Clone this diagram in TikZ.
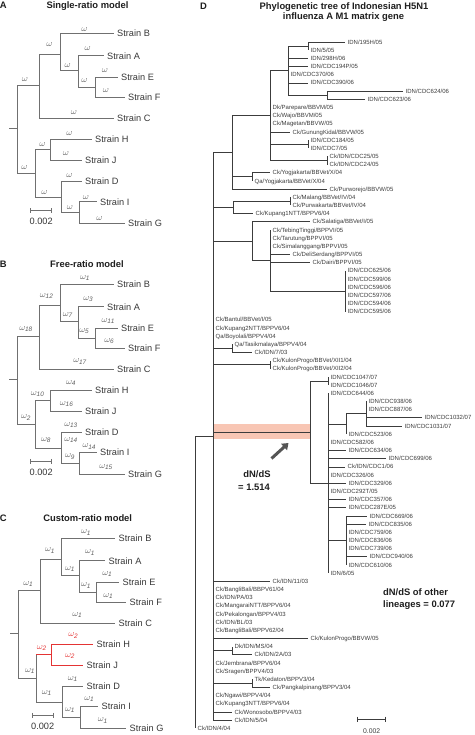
\documentclass[tikz,border=0pt]{standalone}
\usepackage{fontspec}
\setmainfont{Liberation Sans}
\usetikzlibrary{arrows.meta}
\definecolor{brgray}{RGB}{112,112,112}
\definecolor{omgray}{RGB}{95,95,95}
\definecolor{txtgray}{RGB}{55,55,55}
\definecolor{dline}{RGB}{60,60,60}
\definecolor{dtext}{RGB}{60,60,60}
\definecolor{ttlc}{RGB}{30,30,30}
\definecolor{hlred}{RGB}{228,52,52}
\definecolor{hlband}{RGB}{248,198,180}
\definecolor{arrgray}{RGB}{85,85,85}
\tikzset{
 br/.style={draw=brgray, line width=1pt, line cap=rect},
 hjbr/.style={br},
 dbr/.style={draw=dline, line width=0.65pt},
 lab/.style={anchor=west, inner sep=0pt, text=txtgray, font=\fontsize{9.2}{10}\selectfont, text height=6.6pt, text depth=0pt},
 om/.style={inner sep=0pt, text=omgray, font=\fontsize{9.2}{10}\selectfont},
 omr/.style={om, text=hlred},
 dl/.style={anchor=west, inner sep=0pt, text=dtext, font=\fontsize{6}{7}\selectfont, text height=4.3pt, text depth=0pt},
 ttl/.style={inner sep=0pt, text=ttlc, font=\fontsize{9.4}{11}\selectfont\bfseries, text height=6.7pt, text depth=0pt},
 sbar/.style={draw=brgray, line width=0.9pt},
 sclab/.style={inner sep=0pt, text=txtgray, font=\fontsize{9.2}{10}\selectfont, text height=6.6pt, text depth=0pt},
}
% tree for panels A-C
\newcommand\abctree[1]{%
 \coordinate (#1stub) at (9.3,128.3);
 \coordinate (#1R) at (17.3,128.3);
 \coordinate (#1U) at (39.3,86);
 \coordinate (#1L) at (35.3,173.3);
 \coordinate (#1BAEF) at (60,55);
 \coordinate (#1AEF) at (78,70.7);
 \coordinate (#1EF) at (95,87.3);
 \coordinate (#1HJ) at (50,150);
 \coordinate (#1DIG) at (61,197.3);
 \coordinate (#1IG) at (79,212.7);
 \coordinate (#1tB) at (113,33.3);
 \coordinate (#1tA) at (103,56);
 \coordinate (#1tE) at (117,77.3);
 \coordinate (#1tF) at (124,97.3);
 \coordinate (#1tC) at (113,118.3);
 \coordinate (#1tH) at (91,139.3);
 \coordinate (#1tJ) at (81,160.7);
 \coordinate (#1tD) at (81,181.7);
 \coordinate (#1tI) at (96,201.7);
 \coordinate (#1tG) at (124,223.3);
 \draw[br] (#1stub) -- (#1R);
 \draw[br] (#1R|-#1U) -- (#1R|-#1L);
 \draw[br] (#1R|-#1U) -- (#1U);
 \draw[br] (#1R|-#1L) -- (#1L);
 \draw[br] (#1U|-#1BAEF) -- (#1U|-#1tC);
 \draw[br] (#1U|-#1BAEF) -- (#1BAEF);
 \draw[br] (#1U|-#1tC) -- (#1tC);
 \draw[br] (#1BAEF|-#1tB) -- (#1BAEF|-#1AEF);
 \draw[br] (#1BAEF|-#1tB) -- (#1tB);
 \draw[br] (#1BAEF|-#1AEF) -- (#1AEF);
 \draw[br] (#1AEF|-#1tA) -- (#1AEF|-#1EF);
 \draw[br] (#1AEF|-#1tA) -- (#1tA);
 \draw[br] (#1AEF|-#1EF) -- (#1EF);
 \draw[br] (#1EF|-#1tE) -- (#1EF|-#1tF);
 \draw[br] (#1EF|-#1tE) -- (#1tE);
 \draw[br] (#1EF|-#1tF) -- (#1tF);
 \draw[br] (#1L|-#1HJ) -- (#1L|-#1DIG);
 \draw[hjbr] (#1L|-#1HJ) -- (#1HJ);
 \draw[br] (#1L|-#1DIG) -- (#1DIG);
 \draw[hjbr] (#1HJ|-#1tH) -- (#1HJ|-#1tJ);
 \draw[hjbr] (#1HJ|-#1tH) -- (#1tH);
 \draw[hjbr] (#1HJ|-#1tJ) -- (#1tJ);
 \draw[br] (#1DIG|-#1tD) -- (#1DIG|-#1IG);
 \draw[br] (#1DIG|-#1tD) -- (#1tD);
 \draw[br] (#1DIG|-#1IG) -- (#1IG);
 \draw[br] (#1IG|-#1tI) -- (#1IG|-#1tG);
 \draw[br] (#1IG|-#1tI) -- (#1tI);
 \draw[br] (#1IG|-#1tG) -- (#1tG);
 \node[lab] (#1sB) at ([xshift=4pt]#1tB) {Strain B};
 \node[lab] (#1sA) at ([xshift=4pt]#1tA) {Strain A};
 \node[lab] (#1sE) at ([xshift=4pt]#1tE) {Strain E};
 \node[lab] (#1sF) at ([xshift=4pt]#1tF) {Strain F};
 \node[lab] (#1sC) at ([xshift=4pt]#1tC) {Strain C};
 \node[lab] (#1sH) at ([xshift=4pt]#1tH) {Strain H};
 \node[lab] (#1sJ) at ([xshift=4pt]#1tJ) {Strain J};
 \node[lab] (#1sD) at ([xshift=4pt]#1tD) {Strain D};
 \node[lab] (#1sI) at ([xshift=4pt]#1tI) {Strain I};
 \node[lab] (#1sG) at ([xshift=4pt]#1tG) {Strain G};
 \coordinate (#1b1) at (30.7,210.7);
 \coordinate (#1b2) at (51.7,210.7);
 \draw[sbar] (#1b1) -- (#1b2);
 \draw[sbar] ([yshift=2.6pt]#1b1) -- ([yshift=-2.6pt]#1b1);
 \draw[sbar] ([yshift=2.6pt]#1b2) -- ([yshift=-2.6pt]#1b2);
 \node[sclab] (#1bl) at (41.2,221.5) {0.002};
}
\newcommand\om[4][om]{\node[#1] (#2) at (#3) {#4};}
\newcommand\lf[5]{%
 \coordinate (#1) at (#3,{42+8.17*(#4-1)});
 \draw[dbr] (#2) |- (#1);
 \node[dl] (#1t) at ([xshift=2.5pt]#1) {#5};}
\newcommand\nd[4]{%
 \coordinate (#1) at (#3,{42+8.17*(#4-1)});
 \draw[dbr] (#2) |- (#1);}
\begin{document}
\begin{tikzpicture}[x=1pt,y=-1pt]
\useasboundingbox (0,0) rectangle (474,735);
% ---------- panel titles
\node[ttl] (hA) at (3.2,5.5) {A};
\node[ttl] (tA) at (87.5,5.5) {Single-ratio model};
\node[ttl] (hB) at (3.2,264) {B};
\node[ttl] (tB) at (87,264) {Free-ratio model};
\node[ttl] (hC) at (3.2,517.7) {C};
\node[ttl] (tC) at (87.7,517.7) {Custom-ratio model};
\node[ttl] (hD) at (203.5,6) {D};
\node[ttl] (tD1) at (344,5.8) {Phylogenetic tree of Indonesian H5N1};
\node[ttl] (tD2) at (343.5,16.5) {influenza A M1 matrix gene};
% ---------- panel A
\abctree{a}
\om{aw1}{84.3,29.3}{$\omega$}
\om{aw2}{49.3,45}{$\omega$}
\om{aw3}{87.7,48.3}{$\omega$}
\om{aw4}{67.7,65.7}{$\omega$}
\om{aw5}{105,70.7}{$\omega$}
\om{aw6}{84.3,81}{$\omega$}
\om{aw7}{106,91}{$\omega$}
\om{aw8}{25,80}{$\omega$}
\om{aw9}{74,112.3}{$\omega$}
\om{aw10}{69.3,133.3}{$\omega$}
\om{aw11}{42.3,145}{$\omega$}
\om{aw12}{66,154}{$\omega$}
\om{aw13}{24.3,167.7}{$\omega$}
\om{aw14}{69.3,176}{$\omega$}
\om{aw15}{44.3,192.3}{$\omega$}
\om{aw16}{86,197.3}{$\omega$}
\om{aw17}{70,207.3}{$\omega$}
\om{aw18}{99.3,218.3}{$\omega$}
% ---------- panel B
\begin{scope}[shift={(0,250.8)}]
\abctree{b}
\end{scope}
\om{bw1}{85,278.3}{$\omega_{\mathit{1}}$}
\om{bw2}{46.7,296}{$\omega_{\mathit{12}}$}
\om{bw3}{88.3,299.3}{$\omega_{\mathit{3}}$}
\om{bw4}{67.7,315.3}{$\omega_{\mathit{7}}$}
\om{bw5}{108.3,321}{$\omega_{\mathit{11}}$}
\om{bw6}{84.3,331.3}{$\omega_{\mathit{5}}$}
\om{bw7}{109.3,341}{$\omega_{\mathit{6}}$}
\om{bw8}{26,329.3}{$\omega_{\mathit{18}}$}
\om{bw9}{80,361.7}{$\omega_{\mathit{17}}$}
\om{bw10}{71,383.3}{$\omega_{\mathit{4}}$}
\om{bw11}{37.7,394.3}{$\omega_{\mathit{10}}$}
\om{bw12}{66.7,404.3}{$\omega_{\mathit{16}}$}
\om{bw13}{26,417.7}{$\omega_{\mathit{2}}$}
\om{bw14}{71,425}{$\omega_{\mathit{13}}$}
\om{bw15}{46,440}{$\omega_{\mathit{8}}$}
\om{bw16}{71,440}{$\omega_{\mathit{14}}$}
\om{bw17}{89.3,446.7}{$\omega_{\mathit{14}}$}
\om{bw18}{70,456.7}{$\omega_{\mathit{9}}$}
\om{bw19}{106,467.3}{$\omega_{\mathit{15}}$}
% ---------- panel C
\begin{scope}[shift={(1.5,504.8)}, hjbr/.style={draw=hlred, line width=1pt, line cap=rect}]
\abctree{c}
\end{scope}
\om{cw1}{86,532.7}{$\omega_{\mathit{1}}$}
\om{cw2}{50,550.7}{$\omega_{\mathit{1}}$}
\om{cw3}{90,552.7}{$\omega_{\mathit{1}}$}
\om{cw4}{70,569.3}{$\omega_{\mathit{1}}$}
\om{cw5}{107.3,574}{$\omega_{\mathit{1}}$}
\om{cw6}{86,585.7}{$\omega_{\mathit{1}}$}
\om{cw7}{108.3,596}{$\omega_{\mathit{1}}$}
\om{cw8}{28.3,584}{$\omega_{\mathit{1}}$}
\om{cw9}{77.3,615}{$\omega_{\mathit{1}}$}
\om[omr]{cw10}{73.3,635.7}{$\omega_{\mathit{2}}$}
\om[omr]{cw11}{41.7,648.3}{$\omega_{\mathit{2}}$}
\om[omr]{cw12}{70,656}{$\omega_{\mathit{2}}$}
\om{cw13}{30,671}{$\omega_{\mathit{1}}$}
\om{cw14}{72.7,679}{$\omega_{\mathit{1}}$}
\om{cw15}{46.7,693.3}{$\omega_{\mathit{1}}$}
\om{cw16}{89.3,699.3}{$\omega_{\mathit{1}}$}
\om{cw17}{70,710}{$\omega_{\mathit{1}}$}
\om{cw18}{102.7,720.7}{$\omega_{\mathit{1}}$}
% ---------- panel D
\fill[hlband] (213,424) rectangle (310,439);
\coordinate (R0) at (195,{42+8.17*48.25});
\nd{BB}{R0}{213}{49.25}
\nd{A1}{BB}{232}{14.5}
\nd{N1}{A1}{270}{10}
\nd{N2}{N1}{288}{4.5}
\nd{N3}{N2}{308}{1.5}
\lf{l1}{N3}{345}{1}{IDN/195H/05}
\lf{l2}{N3}{308}{2}{IDN/5/05}
\lf{l3}{N2}{308}{3}{IDN/298H/06}
\lf{l4}{N2}{308}{4}{IDN/CDC194P/05}
\lf{l5}{N2}{288}{5}{IDN/CDC370/06}
\lf{l6}{N2}{308}{6}{IDN/CDC390/06}
\nd{N4}{N2}{327}{7.5}
\lf{l7}{N4}{403}{7}{IDN/CDC624/06}
\lf{l8}{N4}{365}{8}{IDN/CDC623/06}
\lf{l9}{N1}{270}{9}{Dk/Parepare/BBVM/05}
\lf{l10}{N1}{270}{10}{Ck/Wajo/BBVM/05}
\lf{l11}{N1}{270}{11}{Ck/Magetan/BBVW/05}
\lf{l12}{N1}{290}{12}{Ck/GunungKidal/BBVW/05}
\nd{N5}{N1}{308}{13.5}
\lf{l13}{N5}{308}{13}{IDN/CDC184/05}
\lf{l14}{N5}{308}{14}{IDN/CDC7/05}
\nd{N6}{N1}{327}{15.5}
\lf{l15}{N6}{327}{15}{Ck/IDN/CDC25/05}
\lf{l16}{N6}{327}{16}{Ck/IDN/CDC24/05}
\nd{N7}{A1}{252}{17.5}
\lf{l17}{N7}{270}{17}{Ck/Yogjakarta/BBVet/X/04}
\lf{l18}{N7}{252}{18}{Qa/Yogjakarta/BBVet/X/04}
\lf{l19}{A1}{327}{19}{Ck/Purworejo/BBVW/05}
\nd{B1}{BB}{233}{21.25}
\nd{B2}{B1}{290}{20.5}
\lf{l20}{B2}{290}{20}{Ck/Malang/BBVet/IV/04}
\lf{l21}{B2}{290}{21}{Ck/Purwakarta/BBVet/IV/04}
\lf{l22}{B1}{253}{22}{Ck/Kupang1NTT/BPPV6/04}
\nd{C1}{BB}{252}{25.375}
\lf{l23}{C1}{310}{23}{Ck/Salatiga/BBVet/I/05}
\nd{C2}{C1}{270}{27.75}
\lf{l24}{C2}{270}{24}{Ck/TebingTinggi/BPPVI/05}
\lf{l25}{C2}{270}{25}{Ck/Tarutung/BPPVI/05}
\lf{l26}{C2}{270}{26}{Ck/Simalanggang/BPPVI/05}
\lf{l27}{C2}{290}{27}{Ck/DeliSerdang/BPPVI/05}
\lf{l28}{C2}{310}{28}{Ck/Dairi/BPPVI/05}
\nd{C3}{C2}{345}{31.5}
\lf{l29}{C3}{345}{29}{IDN/CDC625/06}
\lf{l30}{C3}{345}{30}{IDN/CDC599/06}
\lf{l31}{C3}{345}{31}{IDN/CDC596/06}
\lf{l32}{C3}{345}{32}{IDN/CDC597/06}
\lf{l33}{C3}{345}{33}{IDN/CDC594/06}
\lf{l34}{C3}{345}{34}{IDN/CDC595/06}
\lf{l35}{BB}{213}{35}{Ck/Bantul/BBVet/I/05}
\lf{l36}{BB}{213}{36}{Ck/Kupang2NTT/BPPV6/04}
\lf{l37}{BB}{213}{37}{Qa/Boyolali/BPPV4/04}
\nd{T1}{BB}{232}{38.5}
\lf{l38}{T1}{232}{38}{Qa/Tasikmalaya/BPPV4/04}
\lf{l39}{T1}{252}{39}{Ck/IDN/7/03}
\nd{K1}{BB}{270}{40.5}
\lf{l40}{K1}{270}{40}{Ck/KulonProgo/BBVet/XII1/04}
\lf{l41}{K1}{270}{41}{Ck/KulonProgo/BBVet/XII2/04}
\nd{D1}{BB}{310}{48.75}
\nd{E1}{D1}{328}{42.5}
\lf{l42}{E1}{328}{42}{IDN/CDC1047/07}
\lf{l43}{E1}{328}{43}{IDN/CDC1046/07}
\nd{D2}{D1}{328}{55}
\lf{l44}{D2}{328}{44}{IDN/CDC644/06}
\nd{D3}{D2}{346}{47.75}
\nd{D4}{D3}{366}{46.5}
\lf{l45}{D4}{366}{45}{IDN/CDC938/06}
\lf{l46}{D4}{366}{46}{IDN/CDC887/06}
\lf{l47}{D4}{422}{47}{IDN/CDC1032/07}
\lf{l48}{D4}{402}{48}{IDN/CDC1031/07}
\lf{l49}{D3}{346}{49}{IDN/CDC523/06}
\lf{l50}{D2}{328}{50}{IDN/CDC582/06}
\lf{l51}{D2}{346}{51}{IDN/CDC634/06}
\lf{l52}{D2}{386}{52}{IDN/CDC699/06}
\lf{l53}{D2}{345}{53}{Ck/IDN/CDC1/06}
\lf{l54}{D2}{328}{54}{IDN/CDC326/06}
\lf{l55}{D2}{346}{55}{IDN/CDC329/06}
\lf{l56}{D2}{328}{56}{IDN/CDC292T/05}
\lf{l57}{D2}{346}{57}{IDN/CDC357/06}
\lf{l58}{D2}{346}{58}{IDN/CDC287E/05}
\nd{D5}{D2}{346}{62}
\lf{l59}{D5}{367}{59}{IDN/CDC669/06}
\lf{l60}{D5}{366}{60}{IDN/CDC835/06}
\lf{l61}{D5}{346}{61}{IDN/CDC759/06}
\lf{l62}{D5}{346}{62}{IDN/CDC836/06}
\lf{l63}{D5}{346}{63}{IDN/CDC739/06}
\lf{l64}{D5}{367}{64}{IDN/CDC940/06}
\lf{l65}{D5}{346}{65}{IDN/CDC610/06}
\lf{l66}{D2}{328}{66}{IDN/6/05}
\lf{l67}{BB}{270}{67}{Ck/IDN/11/03}
\lf{l68}{BB}{213}{68}{Ck/BangliBali/BBPV61/04}
\lf{l69}{BB}{213}{69}{Ck/IDN/PA/03}
\lf{l70}{BB}{213}{70}{Ck/MangaraiNTT/BPPV6/04}
\lf{l71}{BB}{213}{71}{Ck/Pekalongan/BPPV4/03}
\lf{l72}{BB}{213}{72}{Ck/IDN/BL/03}
\lf{l73}{BB}{213}{73}{Ck/BangliBali/BPPV62/04}
\lf{l74}{BB}{308}{74}{Ck/KulonProgo/BBVW/05}
\nd{M1}{BB}{232}{75.5}
\lf{l75}{M1}{232}{75}{Dk/IDN/MS/04}
\lf{l76}{M1}{252}{76}{Ck/IDN/2A/03}
\lf{l77}{BB}{213}{77}{Ck/Jembrana/BPPV6/04}
\lf{l78}{BB}{213}{78}{Ck/Sragen/BPPV4/03}
\nd{K2}{BB}{252}{79.5}
\lf{l79}{K2}{252}{79}{Tk/Kedaton/BPPV3/04}
\lf{l80}{K2}{270}{80}{Ck/Pangkalpinang/BPPV3/04}
\lf{l81}{BB}{213}{81}{Ck/Ngawi/BPPV4/04}
\lf{l82}{BB}{213}{82}{Ck/Kupang3NTT/BPPV6/04}
\lf{l83}{BB}{232}{83}{Ck/Wonosobo/BPPV4/03}
\lf{l84}{BB}{232}{84}{Ck/IDN/5/04}
\lf{l85}{R0}{195}{85}{Ck/IDN/4/04}
% arrow and dN/dS labels
\coordinate (arA) at (271.5,458.5);
\coordinate (arB) at (288.5,443);
\draw[arrgray, line width=3pt, -{Triangle[length=6pt,width=8.5pt]}] (arA) -- (arB);
\node[ttl] (dn1) at (257,474.5) {dN/dS};
\node[ttl] (dn2) at (254,487.3) {= 1.514};
\node[ttl, anchor=west] (dn3) at (383,592) {dN/dS of other};
\node[ttl, anchor=west] (dn4) at (383,604) {lineages = 0.077};
% scale bar D
\coordinate (ds1) at (357.7,719.3);
\coordinate (ds2) at (385.7,719.3);
\draw[dbr, line width=0.8pt] (ds1) -- (ds2);
\draw[dbr, line width=0.8pt] ([yshift=2.6pt]ds1) -- ([yshift=-2.6pt]ds1);
\draw[dbr, line width=0.8pt] ([yshift=2.6pt]ds2) -- ([yshift=-2.6pt]ds2);
\node[inner sep=0pt, text=dtext, font=\fontsize{6.8}{8}\selectfont] (dsl) at (371.7,731) {0.002};
\end{tikzpicture}
\end{document}
